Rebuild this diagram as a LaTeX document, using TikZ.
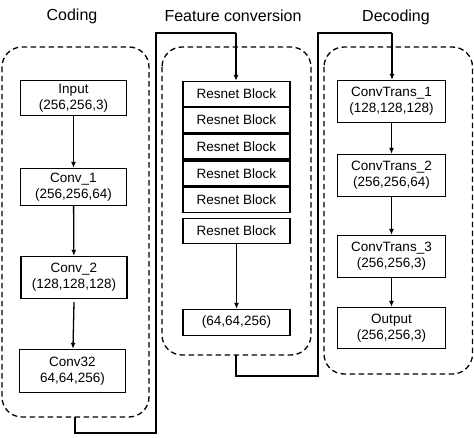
\documentclass[tikz,border=0pt]{standalone}
\usepackage{fontspec}
\setmainfont{Liberation Sans}
\usetikzlibrary{arrows.meta}
\begin{document}
\begin{tikzpicture}[x=1pt,y=-1pt,
  box/.style={draw,line width=1.4pt,minimum width=106pt,align=center,font=\fontsize{13.5}{16}\selectfont,inner sep=0pt},
  rbox/.style={draw,line width=1.4pt,minimum width=107pt,minimum height=25pt,font=\fontsize{13.5}{16}\selectfont,inner sep=0pt},
  group/.style={draw,line width=1.3pt,dash pattern=on 5.5pt off 3.5pt,rounded corners=20pt},
  title/.style={font=\fontsize{16}{19}\selectfont},
  arr/.style={-{Latex[length=6pt,width=5pt]},line width=1.3pt},
  ln/.style={line width=1.3pt}]
\useasboundingbox (0,0) rectangle (474,438);
% titles
\node[title] (t1) at (72,16) {Coding};
\node[title] (t2) at (233,16) {Feature conversion};
\node[title] (t3) at (396,17) {Decoding};
% groups
\draw[group] (2,47) rectangle (149,417);
\draw[group] (162,47) rectangle (311,355);
\draw[group] (324,47) rectangle (472.5,374);
\coordinate (g1b) at (75,417);
\coordinate (g2b) at (236,355);
% coding
\node[box,minimum height=35pt] (in) at (73.5,98) {Input\\(256,256,3)};
\node[box,minimum height=37pt] (c1) at (73.5,187) {Conv\_1\\(256,256,64)};
\node[box,minimum height=42pt] (c2) at (74,277.5) {Conv\_2\\(128,128,128)};
\node[box,minimum height=43pt] (c3) at (72.5,371) {Conv32\\64,64,256)};
\draw[arr] (in) -- (c1);
\draw[arr] (c1) -- (c2);
\draw[arr] (c2.south) ++(0,3) coordinate (c2s) (c2s) -- (c3);
% feature
\node[rbox] (r1) at (236.5,94) {Resnet Block};
\node[rbox] (r2) at (236.5,120) {Resnet Block};
\node[rbox] (r3) at (236.5,146.5) {Resnet Block};
\node[rbox] (r4) at (236.5,173.5) {Resnet Block};
\node[rbox] (r5) at (236.5,200) {Resnet Block};
\node[rbox] (r6) at (236.5,231) {Resnet Block};
\node[rbox,minimum height=26pt] (f) at (236.5,322.5) {(64,64,256)};
\draw[arr] (r6) -- (f);
% decoding
\node[box,minimum height=42pt,minimum width=108pt] (d1) at (391.5,101.5) {ConvTrans\_1\\(128,128,128)};
\node[box,minimum height=42pt,minimum width=108pt] (d2) at (391.5,175.5) {ConvTrans\_2\\(256,256,64)};
\node[box,minimum height=42pt,minimum width=108pt] (d3) at (391.5,256.5) {ConvTrans\_3\\(256,256,3)};
\node[box,minimum height=41pt,minimum width=108pt] (d4) at (391.5,328) {Output\\(256,256,3)};
\draw[arr] (d1) -- (d2);
\draw[arr] (d2) -- (d3);
\draw[arr] (d3) -- (d4);
% connectors between groups
\draw[ln] (g1b) -- (75,433) -- (156,433) -- (156,33) -- (236,33);
\draw[arr] (236,33) -- (r1.north -| 236,0);
\draw[ln] (g2b) -- (236,376) -- (318,376) -- (318,33) -- (392,33);
\draw[arr] (392,33) -- (d1.north -| 392,0);
\end{tikzpicture}
\end{document}
